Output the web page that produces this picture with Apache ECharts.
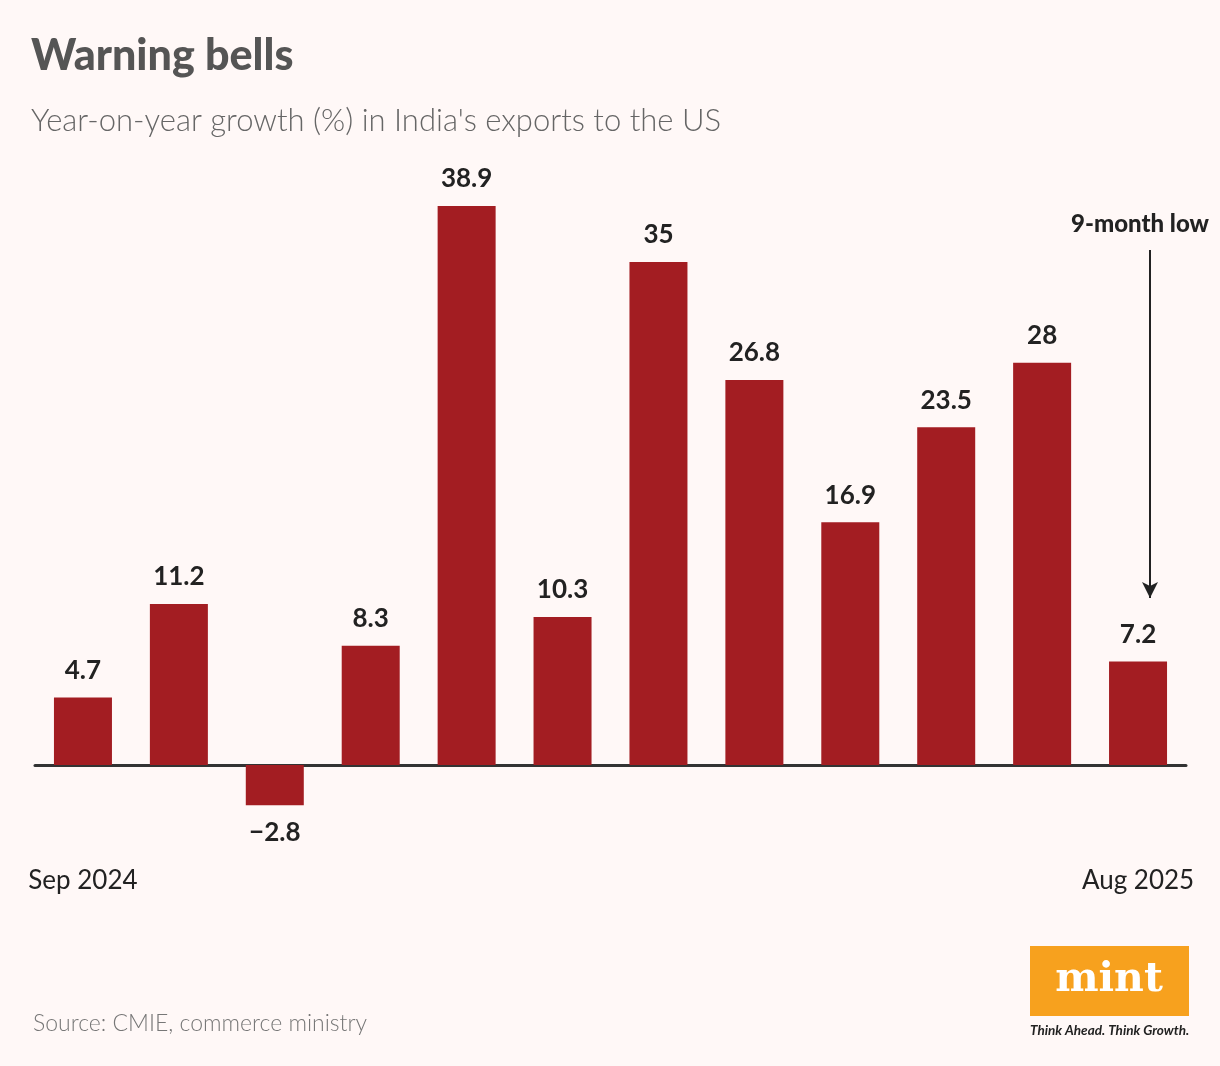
<!DOCTYPE html>
<html>
<head>
    <meta charset="UTF-8">
    <title>Warning bells</title>
    <style type="text/css">
        body { margin: 0; background: #fff8f7; }
        #mychart { width: 1220px; height: 1066px; }
    </style>
</head>
<body>
<div id="mychart"></div>
<script src="https://cdn.jsdelivr.net/npm/echarts@6/dist/echarts.min.js"></script>
<script>
    // months, Sep 2024 -> Aug 2025
    var months = ['Sep 2024', 'Oct 2024', 'Nov 2024', 'Dec 2024', 'Jan 2025', 'Feb 2025',
        'Mar 2025', 'Apr 2025', 'May 2025', 'Jun 2025', 'Jul 2025', 'Aug 2025'];
    var growth = [4.7, 11.2, -2.8, 8.3, 38.9, 10.3, 35, 26.8, 16.9, 23.5, 28, 7.2];

    var barData = growth.map(function (v) {
        return {
            value: v,
            label: { position: v < 0 ? 'bottom' : 'top' }
        };
    });

    var mychart = echarts.init(document.getElementById('mychart'));
    mychart.setOption({
        backgroundColor: '#fff8f7',
        textStyle: { fontFamily: 'Lato' },
        title: [
            {
                text: 'Warning bells',
                left: 26, top: 30,
                textStyle: { fontSize: 43, fontWeight: 900, color: '#555', fontFamily: 'Lato' }
            },
            {
                text: "Year-on-year growth (%) in India's exports to the US",
                left: 26, top: 100,
                textStyle: { fontSize: 31, fontWeight: 300, color: '#666', fontFamily: 'Lato' }
            },
            {
                text: 'Source: CMIE, commerce ministry',
                left: 28, top: 1007,
                textStyle: { fontSize: 23, fontWeight: 300, color: '#777', fontFamily: 'Lato' }
            }
        ],
        grid: { left: 35, width: 1151, top: 190.2, height: 661 },
        xAxis: {
            type: 'category',
            data: months,
            axisLine: { onZero: true, lineStyle: { color: '#333', width: 3 } },
            axisTick: { show: false },
            axisLabel: {
                interval: function (i) { return i === 0 || i === months.length - 1; },
                margin: 16,
                fontSize: 26,
                color: '#222',
                fontFamily: 'Lato'
            }
        },
        yAxis: {
            type: 'value',
            min: -6, max: 40,
            show: false,
            splitLine: { show: false }
        },
        series: [{
            type: 'bar',
            data: barData,
            barWidth: 58,
            itemStyle: { color: '#a31d22' },
            label: {
                show: true,
                fontSize: 26,
                fontWeight: 'bold',
                color: '#222',
                distance: 14,
                fontFamily: 'Lato',
                formatter: function (p) {
                    return p.value < 0 ? '\u2212' + Math.abs(p.value) : p.value;
                }
            },
            markLine: {
                silent: true,
                symbol: ['none', 'arrow'],
                symbolSize: [12, 16],
                label: { show: false },
                lineStyle: { color: '#222', width: 2, type: 'solid' },
                data: [[{ x: 1150, y: 250 }, { x: 1150, y: 598 }]]
            }
        }],
        graphic: [
            {
                type: 'text', left: 1071, top: 212,
                style: { text: '9-month low', fontSize: 24, fontWeight: 900, fill: '#222', fontFamily: 'Lato' }
            },
            {
                type: 'rect', left: 1030, top: 946,
                shape: { width: 159, height: 70 },
                style: { fill: '#f7a11e' }
            },
            {
                type: 'text', x: 1109, y: 980,
                style: {
                    text: 'mint', fontSize: 41, fontWeight: 'bold', fill: '#fff', fontFamily: 'DejaVu Serif',
                    align: 'center', verticalAlign: 'middle'
                }
            },
            {
                type: 'text', left: 1030, top: 1024,
                style: { text: 'Think Ahead. Think Growth.', fontSize: 13.5, fontStyle: 'italic', fontWeight: 'bold', fill: '#222', fontFamily: 'Lato' }
            }
        ]
    });
</script>
</body>
</html>
